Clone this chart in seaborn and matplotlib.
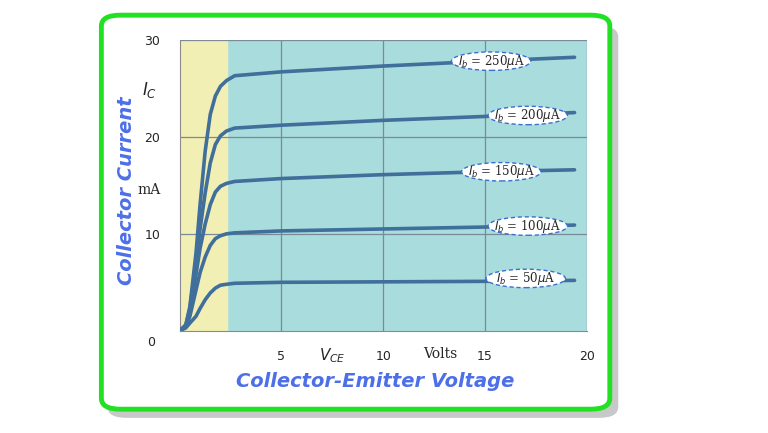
import matplotlib
matplotlib.use("Agg")
import matplotlib.pyplot as plt
import seaborn as sns
import pandas as pd
from matplotlib.patches import FancyBboxPatch, Ellipse

# values
vce = [0.0, 0.3, 0.5, 0.8, 1.0, 1.25, 1.5, 1.75, 2.0, 2.3, 2.7, 5.0, 10.0, 15.0, 19.4]
ic_250 = [0.0, 0.6, 2.5, 8.0, 13.0, 18.5, 22.3, 24.2, 25.2, 25.8, 26.3, 26.7, 27.3, 27.8, 28.2]
ic_200 = [0.0, 0.6, 2.3, 7.0, 10.5, 14.2, 17.3, 19.2, 20.1, 20.6, 20.9, 21.2, 21.7, 22.1, 22.5]
ic_150 = [0.0, 0.5, 2.0, 5.8, 8.5, 11.0, 13.0, 14.3, 14.9, 15.2, 15.4, 15.7, 16.1, 16.4, 16.6]
ic_100 = [0.0, 0.4, 1.5, 4.2, 6.0, 7.6, 8.8, 9.5, 9.8, 10.0, 10.1, 10.3, 10.5, 10.7, 10.9]
ic_50 = [0.0, 0.3, 0.8, 1.5, 2.3, 3.2, 3.9, 4.4, 4.7, 4.8, 4.9, 5.0, 5.05, 5.1, 5.2]
base_currents = ["250", "200", "150", "100", "50"]
label_x = [15.3, 17.1, 15.8, 17.1, 17.0]
label_y = [27.8, 22.2, 16.4, 10.8, 5.4]
saturation_edge = 2.3

curves = {"250": ic_250, "200": ic_200, "150": ic_150, "100": ic_100, "50": ic_50}
frames = [pd.DataFrame({"vce": vce, "ic": vals, "ib": ib}) for ib, vals in curves.items()]
data = pd.concat(frames, ignore_index=True)

sns.set_style("white")
fig = plt.figure(figsize=(7.68, 4.33), dpi=100)

# frame with shadow
shadow = FancyBboxPatch((0.140, 0.035), 0.665, 0.905, boxstyle="round,pad=0,rounding_size=0.025",
                        transform=fig.transFigure, facecolor="#c8c8c8", edgecolor="none", zorder=0)
frame = FancyBboxPatch((0.132, 0.055), 0.662, 0.91, boxstyle="round,pad=0,rounding_size=0.025",
                       transform=fig.transFigure, facecolor="white", edgecolor="#22e022",
                       linewidth=3.5, zorder=1)
fig.patches.extend([shadow, frame])

ax = fig.add_axes([0.234, 0.236, 0.530, 0.672])
ax.set_zorder(2)
ax.set_facecolor("#a9dcdc")
ax.axvspan(0, saturation_edge, color="#f2efb4", zorder=0)

sns.lineplot(data=data, x="vce", y="ic", units="ib", estimator=None, color="#3f6f9a",
             linewidth=2.6, ax=ax, zorder=3)

for ib, lx, ly in zip(base_currents, label_x, label_y):
    ax.add_patch(Ellipse((lx, ly), 3.9, 1.9, facecolor="white", edgecolor="#3a6fd0",
                         linestyle=(0, (3, 2)), linewidth=1, zorder=4))
    ax.text(lx, ly, rf"$I_b$ = {ib}$\mu$A", ha="center", va="center", fontsize=8.5,
            family="DejaVu Serif", zorder=5)

ax.set_xlim(0, 20)
ax.set_ylim(0, 30)
ax.set_xticks([5, 10, 15, 20])
ax.set_yticks([10, 20, 30])
ax.grid(True, color="#7a8a96", linewidth=0.9, zorder=1)
ax.set_axisbelow(True)
for side in ["top", "right"]:
    ax.spines[side].set_visible(False)
for side in ["left", "bottom"]:
    ax.spines[side].set_color("#8a8a8a")
ax.tick_params(axis="y", length=12, color="#8a8a8a", labelsize=9, pad=2)
ax.tick_params(axis="x", length=0, labelsize=9, pad=14)
ax.set_xlabel("")
ax.set_ylabel("")

ax.text(-1.4, -1.2, "0", ha="center", va="center", fontsize=9)
ax.text(-1.5, 24.8, r"$I_C$", ha="center", va="center", fontsize=12, family="DejaVu Serif")
ax.text(-1.5, 14.5, "mA", ha="center", va="center", fontsize=10, family="DejaVu Serif")
ax.text(7.5, -2.6, r"$V_{CE}$", ha="center", va="center", fontsize=11, family="DejaVu Serif")
ax.text(12.8, -2.4, "Volts", ha="center", va="center", fontsize=10, family="DejaVu Serif")

blue = "#4d6fe8"
fig.text(0.165, 0.56, "Collector Current", rotation=90, ha="center", va="center",
         fontsize=14, fontweight="bold", style="italic", color=blue)
fig.text(0.488, 0.12, "Collector-Emitter Voltage", ha="center", va="center",
         fontsize=14, fontweight="bold", style="italic", color=blue)

fig.savefig("out.png", dpi=100)
